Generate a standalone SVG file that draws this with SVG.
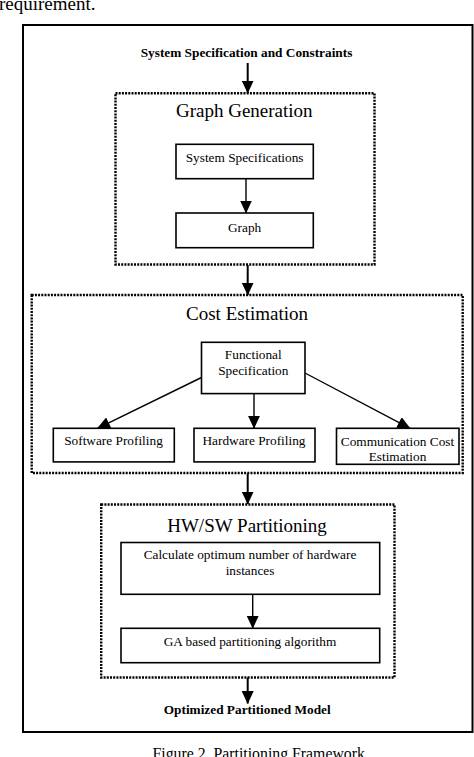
<svg xmlns="http://www.w3.org/2000/svg" width="474" height="757" viewBox="0 0 474 757">
<defs>
<style>
text{font-family:"Liberation Serif","Times New Roman",serif;fill:#000}
.t{font-size:13.3px;text-anchor:middle}
.b{font-size:13.3px;font-weight:bold;text-anchor:middle}
.h{font-size:19px;text-anchor:middle}
.box{fill:#fff;stroke:#000;stroke-width:1.6}
.dot{fill:none;stroke:#000;stroke-width:2.4;stroke-dasharray:2 1.2}
.c{fill:none;stroke:#000;stroke-width:1.4}
.cb{fill:none;stroke:#000;stroke-width:2}
</style>
<marker id="ah" markerUnits="userSpaceOnUse" markerWidth="13" markerHeight="12" refX="12.5" refY="6" orient="auto" viewBox="0 0 13 12">
<path d="M0,0 L13,6 L0,12 z" fill="#000"/>
</marker>
</defs>
<rect width="474" height="757" fill="#fff"/>
<text x="-1" y="9.5" style="font-size:19px">requirement.</text>
<rect x="23" y="25" width="449.5" height="707" fill="none" stroke="#000" stroke-width="2"/>
<text x="152.5" y="759" style="font-size:15.8px">Figure 2. Partitioning Framework</text>

<g id="connectors">
<line class="cb" x1="247.7" y1="63" x2="247.7" y2="93" marker-end="url(#ah)"/>
<line class="c" x1="246" y1="178.7" x2="246" y2="213" marker-end="url(#ah)"/>
<line class="cb" x1="247.7" y1="265" x2="247.7" y2="295" marker-end="url(#ah)"/>
<line class="c" x1="254" y1="394" x2="254" y2="428.3" marker-end="url(#ah)"/>
<line class="c" x1="201.5" y1="377.5" x2="97.5" y2="428.3" marker-end="url(#ah)"/>
<line class="c" x1="305" y1="373" x2="410" y2="428.3" marker-end="url(#ah)"/>
<line class="cb" x1="247.7" y1="473.5" x2="247.7" y2="504" marker-end="url(#ah)"/>
<line class="c" x1="252.7" y1="594.3" x2="252.7" y2="628.3" marker-end="url(#ah)"/>
<line class="cb" x1="247.7" y1="677.5" x2="247.7" y2="703.5" marker-end="url(#ah)"/>
</g>

<g id="input">
<text class="b" x="246.5" y="57.3">System Specification and Constraints</text>
</g>

<g id="graph-generation">
<rect class="dot" x="115.5" y="93.2" width="259" height="171.3"/>
<text class="h" x="244.3" y="117.3">Graph Generation</text>
</g>
<g id="system-specifications">
<rect class="box" x="176" y="144.3" width="137.3" height="34.4"/>
<text class="t" x="244.6" y="162.3">System Specifications</text>
</g>
<g id="graph">
<rect class="box" x="176" y="213" width="137.3" height="34.7"/>
<text class="t" x="244.6" y="231.5">Graph</text>
</g>

<g id="cost-estimation">
<rect class="dot" x="31.7" y="295" width="431" height="178"/>
<text class="h" x="247" y="320">Cost Estimation</text>
</g>
<g id="functional-specification">
<rect class="box" x="201.5" y="342.3" width="103.5" height="51.3"/>
<text class="t" x="253.3" y="359.3">Functional</text>
<text class="t" x="253.3" y="375.3">Specification</text>
</g>
<g id="software-profiling">
<rect class="box" x="53.3" y="428.3" width="121" height="33.6"/>
<text class="t" x="113.5" y="445.3">Software Profiling</text>
</g>
<g id="hardware-profiling">
<rect class="box" x="194" y="428.3" width="121" height="33.6"/>
<text class="t" x="254" y="445.3">Hardware Profiling</text>
</g>
<g id="communication-cost">
<rect class="box" x="336.5" y="428.3" width="122.5" height="36"/>
<text class="t" x="397.5" y="446">Communication Cost</text>
<text class="t" x="397.5" y="460.5">Estimation</text>
</g>

<g id="hw-sw-partitioning">
<rect class="dot" x="101.2" y="504.5" width="293.3" height="173"/>
<text class="h" x="247" y="531.7">HW/SW Partitioning</text>
</g>
<g id="calculate-instances">
<rect class="box" x="121" y="542.5" width="258.7" height="51.8"/>
<text class="t" x="250" y="559">Calculate optimum number of hardware</text>
<text class="t" x="250" y="575">instances</text>
</g>
<g id="ga-partitioning">
<rect class="box" x="121" y="628.3" width="258.7" height="34.4"/>
<text class="t" x="250" y="646">GA based partitioning algorithm</text>
</g>

<g id="output">
<text class="b" x="247.2" y="714">Optimized Partitioned Model</text>
</g>
</svg>
